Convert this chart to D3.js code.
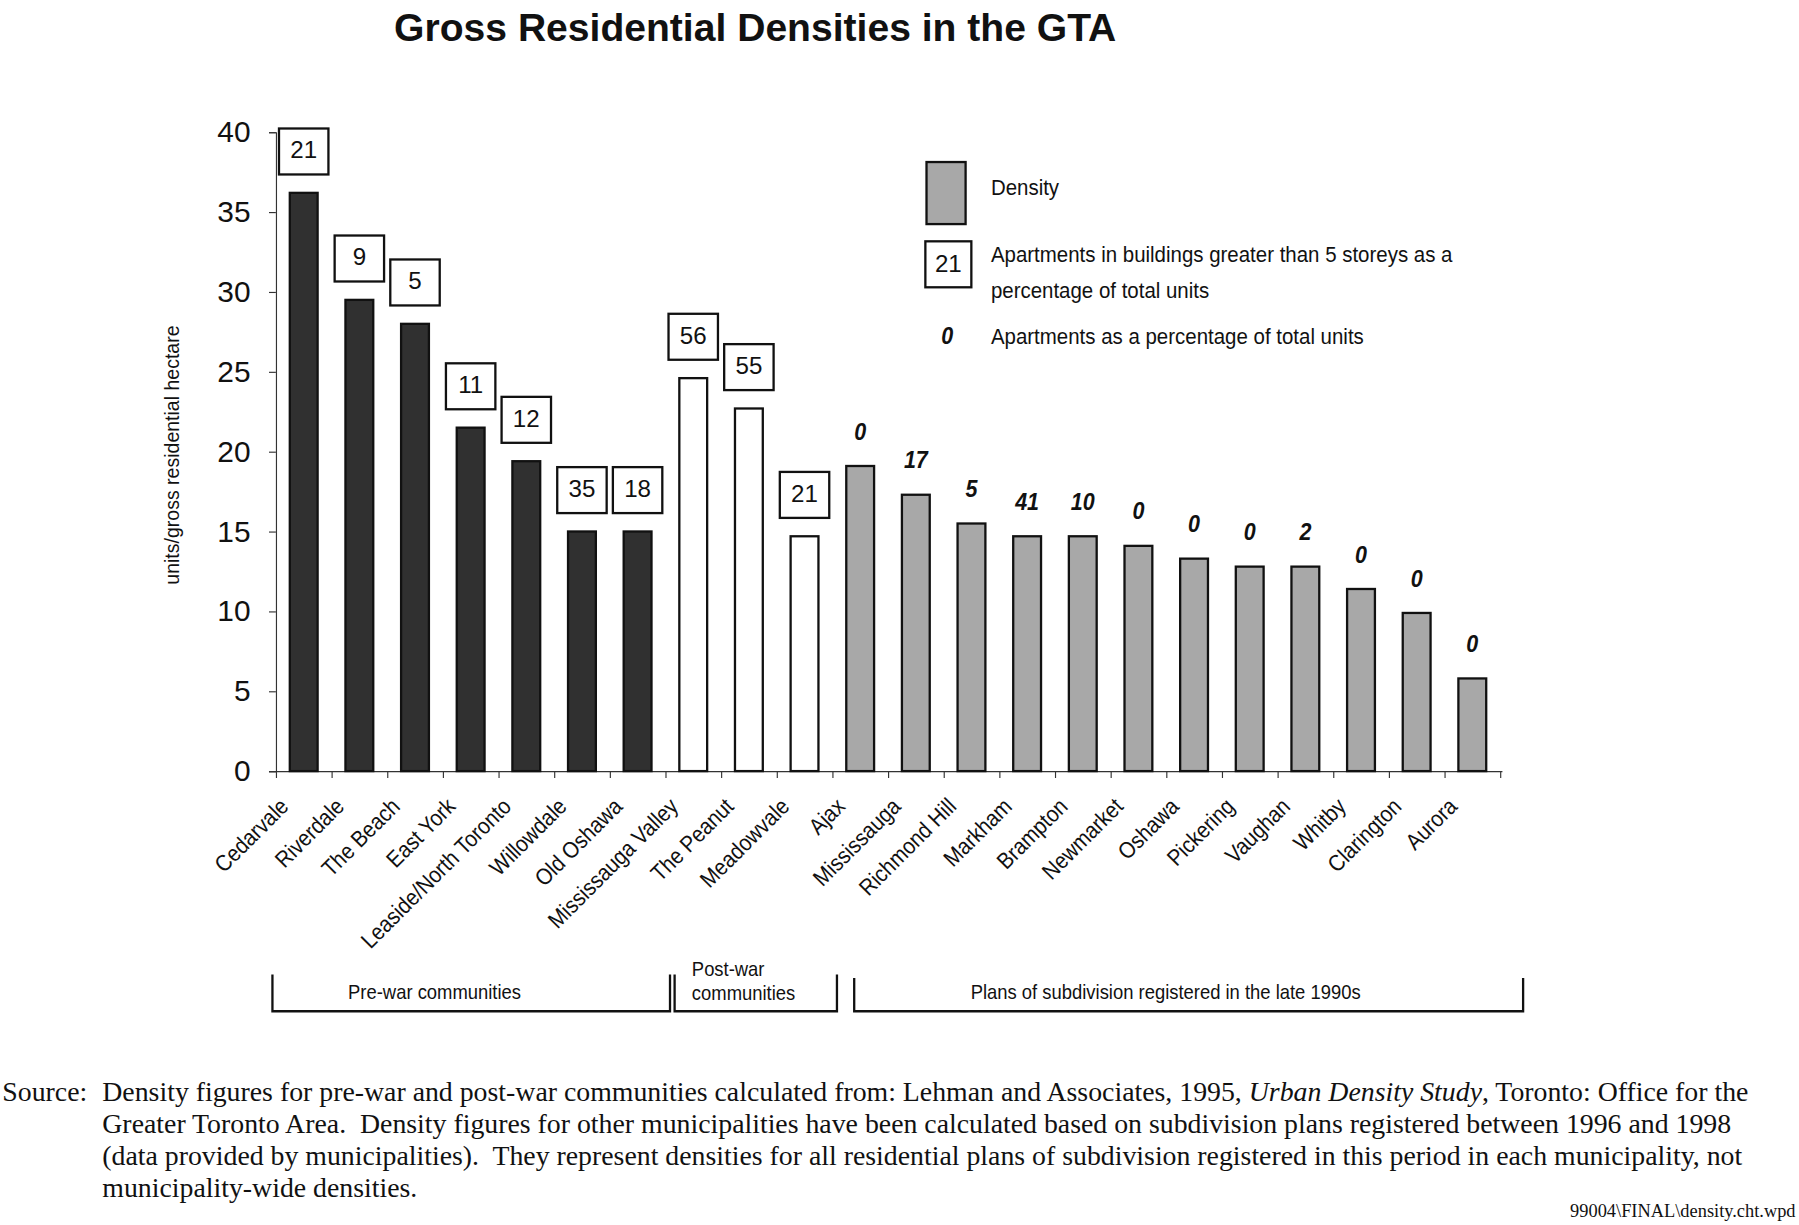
<!DOCTYPE html>
<html>
<head>
<meta charset="utf-8">
<script src="https://cdn.jsdelivr.net/npm/d3@7"></script>
<style>
  html, body { margin: 0; padding: 0; background: #fff; }
  svg { display: block; }
</style>
</head>
<body>
<div id="chart"></div>
<script>
// Gross residential densities in the GTA

const places = ['Cedarvale', 'Riverdale', 'The Beach', 'East York', 'Leaside/North Toronto',
  'Willowdale', 'Old Oshawa', 'Mississauga Valley', 'The Peanut', 'Meadowvale',
  'Ajax', 'Mississauga', 'Richmond Hill', 'Markham', 'Brampton', 'Newmarket',
  'Oshawa', 'Pickering', 'Vaughan', 'Whitby', 'Clarington', 'Aurora'];

// units / gross residential hectare
const density = [36.2, 29.5, 28.0, 21.5, 19.4, 15.0, 15.0, 24.6, 22.7, 14.7,
  19.1, 17.3, 15.5, 14.7, 14.7, 14.1, 13.3, 12.8, 12.8, 11.4, 9.9, 5.8];

// boxed: apartments in buildings > 5 storeys as % of units (pre/post-war)
// italic: apartments as % of total units (late 1990s plans)
const aptPct = [21, 9, 5, 11, 12, 35, 18, 56, 55, 21,
  0, 17, 5, 41, 10, 0, 0, 0, 2, 0, 0, 0];

const era = ['pre', 'pre', 'pre', 'pre', 'pre', 'pre', 'pre', 'post', 'post', 'post',
  'late', 'late', 'late', 'late', 'late', 'late', 'late', 'late', 'late', 'late', 'late', 'late'];

const yTicks = [0, 5, 10, 15, 20, 25, 30, 35, 40];

const groupNames = [['Pre-war communities'], ['Post-war', 'communities'],
  ['Plans of subdivision registered in the late 1990s']];
const groupKeys = ['pre', 'post', 'late'];

const sourceLines = [
  ['Density figures for pre-war and post-war communities calculated from: Lehman and Associates, 1995, ', 'Urban Density Study', ', Toronto: Office for the'],
  ['Greater Toronto Area.  Density figures for other municipalities have been calculated based on subdivision plans registered between 1996 and 1998'],
  ['(data provided by municipalities).  They represent densities for all residential plans of subdivision registered in this period in each municipality, not'],
  ['municipality-wide densities.']
];

const W = 1565, H = 1066;
const svg = d3.select('#chart').append('svg')
  .attr('width', 1799)
  .attr('height', 1225)
  .attr('viewBox', [0, 0, W, H])
  .attr('preserveAspectRatio', 'none')
  .attr('font-family', '"Liberation Sans", Arial, sans-serif')
  .attr('fill', '#111');

const fills = { pre: '#303030', post: '#ffffff', late: '#a8a8a8' };

const x0 = 240, x1 = 1305, yTop = 115, yBottom = 671;
const SQUEEZE = 0.89; // chart labels are in a condensed face

const x = d3.scaleBand().domain(places).range([x0, x1]).paddingInner(0.5).paddingOuter(0.25);
const y = d3.scaleLinear().domain([0, 40]).range([yBottom, yTop]);

// condensed text helper
function narrow(parent, px, py, str, size, extra = '') {
  return parent.append('text')
    .attr('transform', `translate(${px},${py}) ${extra} scale(${SQUEEZE},1)`)
    .attr('font-size', size)
    .text(str);
}

// title
svg.append('text')
  .attr('x', 657).attr('y', 36)
  .attr('text-anchor', 'middle')
  .attr('font-weight', 'bold')
  .attr('font-size', 34)
  .text('Gross Residential Densities in the GTA');

// y axis
const yAxis = svg.append('g')
  .attr('transform', `translate(${x0},0)`)
  .call(d3.axisLeft(y).tickValues(yTicks).tickSize(6).tickPadding(16).tickFormat(d3.format('d')));
yAxis.selectAll('text')
  .attr('font-family', '"Liberation Sans", Arial, sans-serif')
  .attr('font-size', 26)
  .attr('fill', '#111');
yAxis.selectAll('line, path').attr('stroke', '#333');

svg.append('text')
  .attr('transform', 'translate(156,396) rotate(-90)')
  .attr('text-anchor', 'middle')
  .attr('font-size', 17)
  .text('units/gross residential hectare');

// x axis with ticks between the bars
const xEdges = d3.scaleLinear().domain([0, places.length]).range([x0, x1]);
const xAxis = svg.append('g')
  .attr('transform', `translate(0,${yBottom})`)
  .call(d3.axisBottom(xEdges).ticks(places.length).tickSize(6).tickFormat(''));
xAxis.select('.domain').attr('d', `M${x0 - 6},0.5H${x1 + 2}`);
xAxis.selectAll('line, path').attr('stroke', '#333');

// bars
svg.append('g')
  .selectAll('rect')
  .data(places)
  .join('rect')
  .attr('x', d => x(d))
  .attr('y', (d, i) => y(density[i]))
  .attr('width', x.bandwidth())
  .attr('height', (d, i) => yBottom - y(density[i]))
  .attr('fill', (d, i) => fills[era[i]])
  .attr('stroke', '#111')
  .attr('stroke-width', 2);

// boxed labels
const boxW = 43, boxH = 40;
const boxed = svg.append('g')
  .selectAll('g')
  .data(places.filter((d, i) => era[i] !== 'late'))
  .join('g')
  .attr('transform', d => {
    const i = places.indexOf(d);
    return `translate(${x(d) + x.bandwidth() / 2},${y(density[i]) - 16 - boxH})`;
  });
boxed.append('rect')
  .attr('x', -boxW / 2).attr('width', boxW).attr('height', boxH)
  .attr('fill', '#fff').attr('stroke', '#111').attr('stroke-width', 2);
boxed.append('text')
  .attr('y', 26)
  .attr('text-anchor', 'middle')
  .attr('font-size', 21)
  .text(d => aptPct[places.indexOf(d)]);

// italic labels
const italics = svg.append('g');
places.forEach((d, i) => {
  if (era[i] !== 'late') return;
  narrow(italics, x(d) + x.bandwidth() / 2, y(density[i]) - 23, aptPct[i], 21)
    .attr('text-anchor', 'middle')
    .attr('font-weight', 'bold')
    .attr('font-style', 'italic');
});

// category labels
const cats = svg.append('g');
places.forEach(d => {
  narrow(cats, x(d) + x.bandwidth() / 2 - 12, 703, d, 20, 'rotate(-45)')
    .attr('text-anchor', 'end');
});

// group brackets
const padL = [-3, 8, 19], padR = [4, 4, 20];
groupKeys.forEach((k, g) => {
  const idx = era.map((e, i) => e === k ? i : -1).filter(i => i >= 0);
  const left = xEdges(d3.min(idx)) + padL[g];
  const right = xEdges(d3.max(idx) + 1) + padR[g];
  const top = g === 2 ? 851 : 848;
  svg.append('path')
    .attr('d', `M${left},${top}V880H${right}V${top}`)
    .attr('fill', 'none')
    .attr('stroke', '#111')
    .attr('stroke-width', 2);
  const lines = groupNames[g];
  if (lines.length === 1) {
    narrow(svg, g === 0 ? left + 141 : (left + right) / 2 - 20, 869, lines[0], 18)
      .attr('text-anchor', 'middle');
  } else {
    lines.forEach((l, j) => narrow(svg, left + 15, 849 + j * 21, l, 18));
  }
});

// legend
const lg = svg.append('g');
lg.append('rect')
  .attr('x', 806).attr('y', 141).attr('width', 34).attr('height', 54)
  .attr('fill', fills.late).attr('stroke', '#111').attr('stroke-width', 2);
narrow(lg, 862, 170, 'Density', 20);
lg.append('rect')
  .attr('x', 805).attr('y', 210).attr('width', 40).attr('height', 40)
  .attr('fill', '#fff').attr('stroke', '#111').attr('stroke-width', 2);
lg.append('text')
  .attr('x', 825).attr('y', 237).attr('text-anchor', 'middle')
  .attr('font-size', 21).text(aptPct[0]);
narrow(lg, 862, 228, 'Apartments in buildings greater than 5 storeys as a', 20);
narrow(lg, 862, 259, 'percentage of total units', 20);
narrow(lg, 824, 299, '0', 21)
  .attr('text-anchor', 'middle')
  .attr('font-weight', 'bold').attr('font-style', 'italic');
narrow(lg, 862, 299, 'Apartments as a percentage of total units', 20);

// source note
const serif = '"Liberation Serif", "Times New Roman", serif';
const note = svg.append('g').attr('font-family', serif).attr('font-size', 24.2);
note.append('text')
  .attr('x', 2).attr('y', 958)
  .text('Source:');
sourceLines.forEach((parts, i) => {
  const t = note.append('text')
    .attr('x', 89).attr('y', 958 + i * 27.8)
    .attr('xml:space', 'preserve');
  parts.forEach((p, j) => {
    t.append('tspan')
      .attr('font-style', parts.length === 3 && j === 1 ? 'italic' : null)
      .text(p);
  });
});
svg.append('text')
  .attr('x', 1562).attr('y', 1059)
  .attr('text-anchor', 'end')
  .attr('font-family', serif).attr('font-size', 16)
  .text('99004\\FINAL\\density.cht.wpd');
</script>
</body>
</html>
